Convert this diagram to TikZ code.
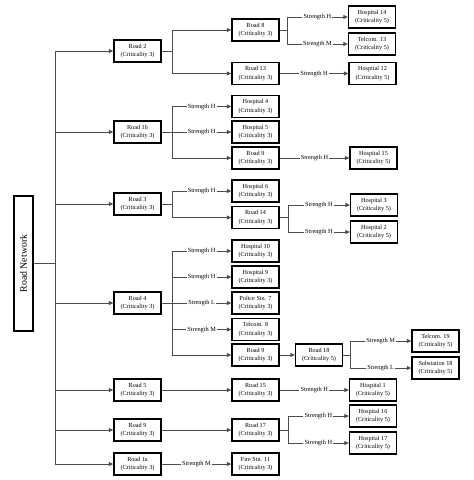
\documentclass[tikz,border=0pt]{standalone}
\usepackage{fontspec}
\setmainfont{Liberation Serif}
\usetikzlibrary{arrows.meta}
\begin{document}
\begin{tikzpicture}[x=1pt,y=-1pt,
  box/.style={draw=black,line width=1.3pt,fill=white,minimum width=47pt,minimum height=22pt,inner sep=0pt,align=center,font=\fontsize{6.2}{8.6}\selectfont},
  con/.style={draw=black!70,line width=0.9pt},
  arr/.style={con,-{Triangle[length=4.5pt,width=4pt]}},
  lbl/.style={fill=white,inner sep=1.2pt,font=\fontsize{6.3}{7}\selectfont}]
\useasboundingbox (0,0) rectangle (474,480);
% root
\node[draw=black,line width=1.3pt,minimum width=19pt,minimum height=135pt,inner sep=0pt] (rn) at (23.5,263.5) {};
\node[rotate=90,font=\fontsize{9.8}{11}\selectfont] (rnt) at (rn.center) {Road Network};
% level 1
\node[box] (r2) at (137.5,51) {Road 2\\(Criticality 3)};
\node[box] (r1b) at (137.5,132) {Road 1b\\(Criticality 3)};
\node[box] (r3) at (137.5,204) {Road 3\\(Criticality 3)};
\node[box] (r4) at (137.5,303) {Road 4\\(Criticality 3)};
\node[box] (r5) at (137.5,390) {Road 5\\(Criticality 3)};
\node[box] (r9a) at (137.5,430) {Road 9\\(Criticality 3)};
\node[box] (r1a) at (137.5,464) {Road 1a\\(Criticality 3)};
% level 2
\node[box] (r8) at (255.5,30) {Road 8\\(Criticality 3)};
\node[box] (r13) at (255.5,73.5) {Road 13\\(Criticality 3)};
\node[box] (h4) at (255.5,106.5) {Hospital 4\\(Criticality 3)};
\node[box] (h5) at (255.5,132) {Hospital 5\\(Criticality 3)};
\node[box] (r9b) at (255.5,158) {Road 9\\(Criticality 3)};
\node[box] (h6) at (255.5,191) {Hospital 6\\(Criticality 3)};
\node[box] (r14) at (255.5,217.5) {Road 14\\(Criticality 3)};
\node[box] (h10) at (255.5,251) {Hospital 10\\(Criticality 3)};
\node[box] (h9) at (255.5,277) {Hospital 9\\(Criticality 3)};
\node[box] (ps7) at (255.5,303) {Police Stn. 7\\(Criticality 3)};
\node[box] (t8) at (255.5,329.5) {Telcom. 8\\(Criticality 3)};
\node[box] (r9c) at (255.5,355) {Road 9\\(Criticality 3)};
\node[box] (r15) at (255.5,390) {Road 15\\(Criticality 3)};
\node[box] (r17) at (255.5,430) {Road 17\\(Criticality 3)};
\node[box] (fs11) at (255.5,464) {Fire Stn. 11\\(Criticality 3)};
\node[box] (r18) at (319,355) {Road 18\\(Criticality 5)};
% level 3
\node[box] (h14) at (372,17) {Hospital 14\\(Criticality 5)};
\node[box] (t13) at (372,44) {Telcom. 13\\(Criticality 5)};
\node[box] (h12) at (372.5,73.5) {Hospital 12\\(Criticality 5)};
\node[box] (h15) at (373.5,158) {Hospital 15\\(Criticality 5)};
\node[box] (h3) at (374,205) {Hospital 3\\(Criticality 5)};
\node[box] (h2) at (374,232) {Hospital 2\\(Criticality 5)};
\node[box] (h1) at (373,390) {Hospital 1\\(Criticality 5)};
\node[box] (h16) at (373,416) {Hospital 16\\(Criticality 5)};
\node[box] (h17) at (373,443) {Hospital 17\\(Criticality 5)};
\node[box] (t19) at (435.5,341) {Telcom. 19\\(Criticality 5)};
\node[box] (s18) at (435.5,368) {Substation 18\\(Criticality 5)};
% branch points
\coordinate (tr) at (55,263.5);
\coordinate (b2) at (172,51);
\coordinate (b1b) at (172,132);
\coordinate (b3) at (172,204);
\coordinate (b4) at (172,303);
\coordinate (b8) at (287,30);
\coordinate (b14) at (288,217.5);
\coordinate (b17) at (288,430);
\coordinate (b18) at (350,355);
% root to level 1
\draw[con] (rn) -- (tr);
\foreach \n in {r2,r1b,r3,r4,r5,r9a,r1a} \draw[arr] (tr) |- (\n);
% Road 2
\draw[con] (r2) -- (b2);
\draw[arr] (b2) |- (r8);
\draw[arr] (b2) |- (r13);
% Road 1b
\draw[con] (r1b) -- (b1b);
\draw[arr] (b1b) |- (h4) node[lbl,pos=0.75] {Strength H};
\draw[arr] (b1b) -- (h5) node[lbl,midway] {Strength H};
\draw[arr] (b1b) |- (r9b);
% Road 3
\draw[con] (r3) -- (b3);
\draw[arr] (b3) |- (h6) node[lbl,pos=0.75] {Strength H};
\draw[arr] (b3) |- (r14);
% Road 4
\draw[con] (r4) -- (b4);
\draw[arr] (b4) |- (h10) node[lbl,pos=0.75] {Strength H};
\draw[arr] (b4) |- (h9) node[lbl,pos=0.75] {Strength H};
\draw[arr] (b4) -- (ps7) node[lbl,midway] {Strength L};
\draw[arr] (b4) |- (t8) node[lbl,pos=0.75] {Strength M};
\draw[arr] (b4) |- (r9c);
% Road 5, 9, 1a
\draw[arr] (r5) -- (r15);
\draw[arr] (r9a) -- (r17);
\draw[arr] (r1a) -- (fs11) node[lbl,midway] {Strength M};
% Road 8
\draw[con] (r8) -- (b8);
\draw[arr] (b8) |- (h14) node[lbl,pos=0.75] {Strength H};
\draw[arr] (b8) |- (t13) node[lbl,pos=0.75] {Strength M};
% Road 13, Road 9
\draw[arr] (r13) -- (h12) node[lbl,midway] {Strength H};
\draw[arr] (r9b) -- (h15) node[lbl,midway] {Strength H};
% Road 14
\draw[con] (r14) -- (b14);
\draw[arr] (b14) |- (h3) node[lbl,pos=0.75] {Strength H};
\draw[arr] (b14) |- (h2) node[lbl,pos=0.75] {Strength H};
% Road 9 -> Road 18
\draw[arr] (r9c) -- (r18);
\draw[con] (r18) -- (b18);
\draw[arr] (b18) |- (t19) node[lbl,pos=0.75] {Strength M};
\draw[arr] (b18) |- (s18) node[lbl,pos=0.75] {Strength L};
% Road 15
\draw[arr] (r15) -- (h1) node[lbl,midway] {Strength H};
% Road 17
\draw[con] (r17) -- (b17);
\draw[arr] (b17) |- (h16) node[lbl,pos=0.75] {Strength H};
\draw[arr] (b17) |- (h17) node[lbl,pos=0.75] {Strength H};
\end{tikzpicture}
\end{document}
